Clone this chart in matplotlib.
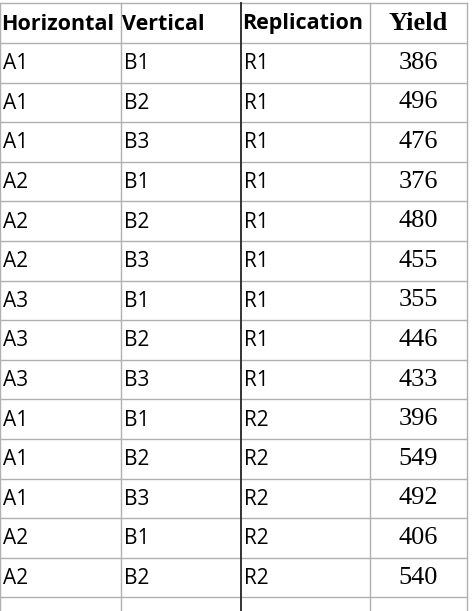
import matplotlib.pyplot as plt
from matplotlib.patches import Rectangle

headers = ['Horizontal', 'Vertical', 'Replication', 'Yield']
horizontal = ['A1', 'A1', 'A1', 'A2', 'A2', 'A2', 'A3', 'A3', 'A3', 'A1', 'A1', 'A1', 'A2', 'A2']
vertical = ['B1', 'B2', 'B3', 'B1', 'B2', 'B3', 'B1', 'B2', 'B3', 'B1', 'B2', 'B3', 'B1', 'B2']
replication = ['R1'] * 9 + ['R2'] * 5
yields = [386, 496, 476, 376, 480, 455, 355, 446, 433, 396, 549, 492, 406, 540]

W, H = 474, 611
fig = plt.figure(figsize=(W / 100, H / 100), dpi=100)
ax = fig.add_axes([0, 0, 1, 1])
ax.set_xlim(0, W)
ax.set_ylim(H, 0)
ax.axis('off')

col_x = [0, 121, 241, 370, 467]
top, head_bot, row_h = 3, 43, 39.6
n = len(yields)

# grid lines
ys = [top, head_bot] + [head_bot + row_h * (i + 1) for i in range(n)]
for y in ys:
    ax.plot([0, col_x[-1]], [y, y], color='#b0b0b0', lw=1)
for i, x in enumerate(col_x):
    c, lw = ('#333333', 1.4) if i == 2 else ('#b0b0b0', 1)
    ax.plot([x, x], [top, H], color=c, lw=lw)

sans = 'Open Sans'
for i, h in enumerate(headers[:3]):
    t = ax.text(col_x[i] + 1, (top + head_bot) / 2 + 1, h, fontsize=15.5, fontweight='bold',
                family=sans, va='center', ha='left')
    clip = Rectangle((col_x[i], top), col_x[i + 1] - col_x[i], head_bot - top,
                     transform=ax.transData, visible=False)
    ax.add_patch(clip)
    t.set_clip_path(clip)
ax.text((col_x[3] + col_x[4]) / 2, (top + head_bot) / 2, headers[3], fontsize=19,
        fontweight='bold', family='Liberation Serif', va='center', ha='center')

for r in range(n):
    yc = head_bot + row_h * r + row_h / 2 + 1
    for c, vals in enumerate([horizontal, vertical, replication]):
        ax.text(col_x[c] + 3, yc, vals[r], fontsize=15, family=sans, va='center', ha='left')
    ax.text((col_x[3] + col_x[4]) / 2, yc - 1, str(yields[r]), fontsize=19,
            family='Liberation Serif', va='center', ha='center')

fig.savefig('out.png', dpi=100)
